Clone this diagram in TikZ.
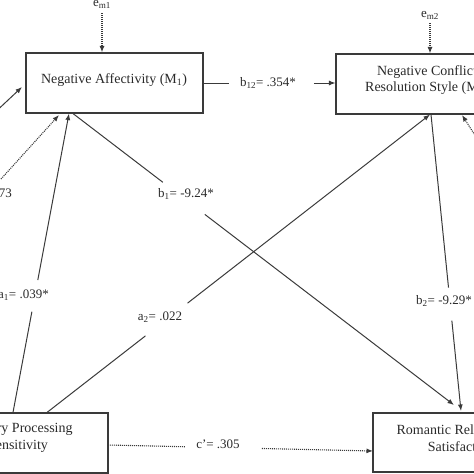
\documentclass[tikz,border=0pt]{standalone}
\usepackage{fontspec}
\setmainfont{Liberation Serif}
\usetikzlibrary{calc,arrows.meta}
\definecolor{ink}{HTML}{2A2A2A}
\definecolor{edgec}{HTML}{3A3A3A}
\tikzset{
  boxnode/.style={draw=edgec, line width=1.1pt, rectangle, inner sep=0pt},
  boxtext/.style={text=ink, align=center, inner sep=0pt, font=\fontsize{14}{17}\selectfont},
  lbl/.style={text=ink, inner sep=0pt, font=\fontsize{13}{15}\selectfont},
  conn/.style={draw=edgec, line width=1pt},
  tip/.style={-{Latex[length=6.5pt,width=5pt]}},
  dots/.style={densely dotted, line width=1.1pt},
}
\begin{document}
\begin{tikzpicture}[x=1pt,y=-1pt]
\useasboundingbox (0,0) rectangle (474,474);
\clip (0,0) rectangle (474,474);
% boxes
\node[boxnode, minimum width=177pt, minimum height=60pt] (M1) at (114.5,83) {};
\node[boxtext] (M1t) at (114,80) {Negative Affectivity (M\textsubscript{1})};
\node[boxnode, minimum width=182pt, minimum height=60pt] (M2) at (427,84) {};
\node[boxtext, font=\fontsize{14}{16}\selectfont] (M2t) at (427,80.5) {Negative Conflict\\Resolution Style (M\textsubscript{2})};
\node[boxnode, minimum width=180pt, minimum height=60pt] (X) at (18,443) {};
\node[boxtext] (Xt) at (18,438) {Sensory Processing\\Sensitivity};
\node[boxnode, minimum width=176pt, minimum height=59pt] (Y) at (461,442.5) {};
\node[boxtext] (Yt) at (461,438) {Romantic Relationship\\Satisfaction};
% error terms
\node[lbl] (em1) at (102,4) {e\textsubscript{m1}};
\node[lbl] (em2) at (430,15) {e\textsubscript{m2}};
\coordinate (em1b) at (102,13);
\coordinate (em2b) at (430,23);
\draw[conn,dots,tip] (em1b) -- (M1.north -| 102,0);
\draw[conn,dots,tip] (em2b) -- (M2.north -| 430,0);
% attachment points
\coordinate (a1s) at (X.north -| 13,0);
\coordinate (a1e) at (M1.south -| 69,0);
\coordinate (a2s) at (X.north -| 47,0);
\coordinate (a2e) at (M2.south -| 430,0);
\coordinate (b1s) at (M1.south -| 73,0);
\coordinate (b1e) at (454,405);
\coordinate (b2s) at (M2.south -| 431,0);
\coordinate (b2e) at (461,411);
\coordinate (b12s) at (M1.east);
\coordinate (b12e) at (M2.west |- M1.east);
\coordinate (cs) at (108,445);
\coordinate (ce) at (373,451);
\coordinate (lin) at (-10,117);
\coordinate (line) at (22,87);
\coordinate (dl) at (1,179);
\coordinate (dle) at (59,115);
\coordinate (dr) at (478,140);
\coordinate (dre) at (462,115);
% a1
\draw[conn] (a1s) -- ($(a1s)!0.337!(a1e)$);
\draw[conn,tip] ($(a1s)!0.443!(a1e)$) -- (a1e);
\node[lbl, anchor=east] (la1) at (49,295) {a\textsubscript{1}= .039*};
% a2
\draw[conn] (a2s) -- ($(a2s)!0.257!(a2e)$);
\draw[conn,tip] ($(a2s)!0.367!(a2e)$) -- (a2e);
\node[lbl] (la2) at (160,317) {a\textsubscript{2}= .022};
% b1
\draw[conn] (b1s) -- ($(b1s)!0.236!(b1e)$);
\draw[conn,tip] ($(b1s)!0.346!(b1e)$) -- (b1e);
\node[lbl] (lb1) at (186,194) {b\textsubscript{1}= -9.24*};
% b2
\draw[conn] (b2s) -- ($(b2s)!0.584!(b2e)$);
\draw[conn,tip] ($(b2s)!0.695!(b2e)$) -- (b2e);
\node[lbl] (lb2) at (444,301) {b\textsubscript{2}= -9.29*};
% b12
\draw[conn] (b12s) -- ($(b12s)!0.194!(b12e)$);
\draw[conn,tip] ($(b12s)!0.836!(b12e)$) -- (b12e);
\node[lbl] (lb12) at (268,83) {b\textsubscript{12}= .354*};
% c'
\draw[conn,dots] (cs) -- ($(cs)!0.29!(ce)$);
\draw[conn,dots,tip] ($(cs)!0.581!(ce)$) -- (ce);
\node[lbl] (lc) at (218,444) {c’= .305};
% partial paths at edges
\draw[conn,tip] (lin) -- (line);
\draw[conn,dots,tip] (dl) -- (dle);
\node[lbl, anchor=east] (l73) at (12,193) {73};
\draw[conn,dots,tip] (dr) -- (dre);
\end{tikzpicture}
\end{document}
